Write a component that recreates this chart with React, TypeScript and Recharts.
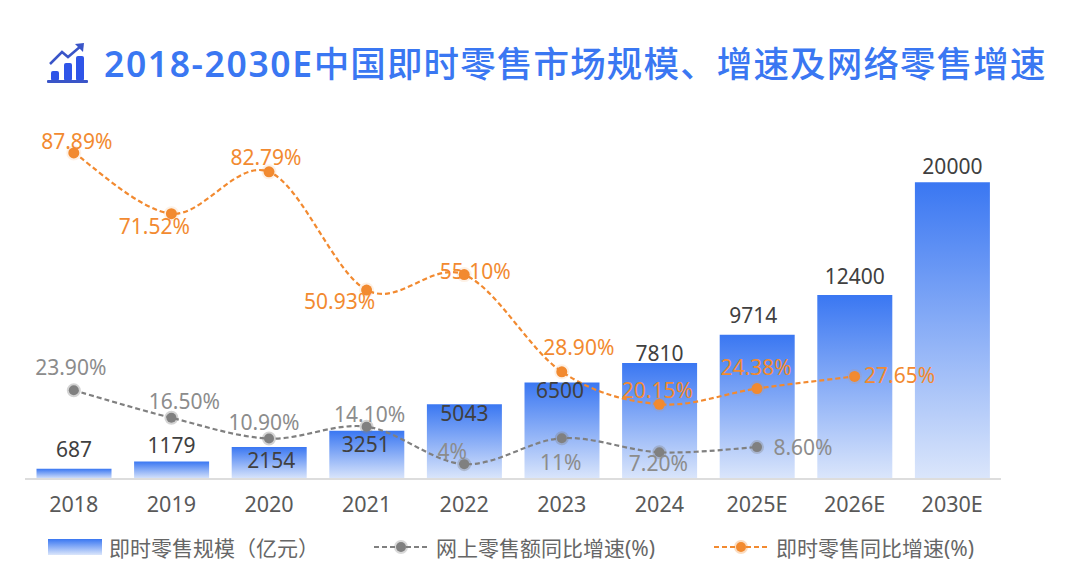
import { Bar, ComposedChart, LabelList, Legend, Line, XAxis, YAxis } from "recharts";

const years = ["2018", "2019", "2020", "2021", "2022", "2023", "2024", "2025E", "2026E", "2030E"];
const marketSize = [687, 1179, 2154, 3251, 5043, 6500, 7810, 9714, 12400, 20000];
const onlineGrowth = [23.9, 16.5, 10.9, 14.1, 4, 11, 7.2, 8.6, null, null];
const instantGrowth = [87.89, 71.52, 82.79, 50.93, 55.1, 28.9, 20.15, 24.38, 27.65, null];
const onlineLabels = ["23.90%", "16.50%", "10.90%", "14.10%", "4%", "11%", "7.20%", "8.60%"];
const instantLabels = ["87.89%", "71.52%", "82.79%", "50.93%", "55.10%", "28.90%", "20.15%", "24.38%", "27.65%"];

const FONT = '"Noto Sans", "Noto Sans CJK SC", sans-serif';
const BLUE = "#3a77f2";
const ORANGE = "#f28a30";
const GRAY = "#808080";

// hand-placed label nudges, the source chart has them all over the place
const barLabelNudge = [[0, -20], [0, -17], [2, 13], [-1, 13], [0, 9], [-2, 7], [0, -10], [-4, -20], [0, -19], [0, -16]];
const onlineLabelNudge = [[-3, -23], [13, -17], [-5, -17], [3, -13], [-12, -13], [-1, 24], [-1, 11], [46, 0]];
const instantLabelNudge = [[3, -12], [-17, 12], [-3, -15], [-27, 11], [11, -4], [17, -25], [-2, -14], [-1, -22], [45, -1]];

const chartData = years.map((year, i) => ({
  year,
  size: marketSize[i],
  online: onlineGrowth[i],
  instant: instantGrowth[i],
}));

// Excel-style smoothed line, overshoots around the points unlike monotone
function smoothCurve(context: any) {
  let pts: [number, number][] = [];
  return {
    areaStart() {},
    areaEnd() {},
    lineStart() {
      pts = [];
    },
    point(x: number, y: number) {
      pts.push([+x, +y]);
    },
    lineEnd() {
      pts.forEach((p, i) => {
        if (i === 0) {
          context.moveTo(p[0], p[1]);
          return;
        }
        const p0 = pts[Math.max(i - 2, 0)];
        const p1 = pts[i - 1];
        const p3 = pts[Math.min(i + 1, pts.length - 1)];
        context.bezierCurveTo(
          p1[0] + (p[0] - p0[0]) / 6,
          p1[1] + (p[1] - p0[1]) / 6,
          p[0] - (p3[0] - p1[0]) / 6,
          p[1] - (p3[1] - p1[1]) / 6,
          p[0],
          p[1],
        );
      });
    },
  };
}

function makeLabel(texts: (string | number)[], nudges: number[][], color: string, isBar = false) {
  return (props: any) => {
    const { x, y, width, index } = props;
    const nudge = nudges[index];
    if (!nudge || texts[index] === undefined) return null;
    const cx = isBar ? x + width / 2 : x;
    return (
      <text
        x={cx + nudge[0]}
        y={y + nudge[1]}
        fill={color}
        fontSize={21}
        fontFamily={FONT}
        textAnchor="middle"
        dominantBaseline="central"
      >
        {texts[index]}
      </text>
    );
  };
}

function LegendRow({ payload }: any) {
  const lefts = [48, 374, 714];
  return (
    <div style={{ position: "relative", height: 30, fontFamily: FONT, fontSize: 21, color: "#666" }}>
      {(payload || []).map((item: any, i: number) => (
        <div key={item.value} style={{ position: "absolute", left: lefts[i], top: 0, height: 30, display: "flex", alignItems: "center", whiteSpace: "nowrap" }}>
          {i === 0 ? (
            <div style={{ width: 54, height: 16, marginRight: 7, background: `linear-gradient(${BLUE}, #dbe6fb)` }} />
          ) : (
            <svg width={54} height={30} style={{ marginRight: 8 }}>
              <line x1={0} x2={54} y1={15} y2={15} stroke={item.color} strokeWidth={2.2} strokeDasharray="5 3" />
              <circle cx={27} cy={15} r={5} fill={item.color} stroke={item.color} strokeOpacity={0.3} strokeWidth={4} />
            </svg>
          )}
          <span>{item.value}</span>
        </div>
      ))}
    </div>
  );
}

function TitleIcon() {
  return (
    <svg width={44} height={42} viewBox="0 0 44 42" style={{ position: "absolute", left: 46, top: 42 }}>
      <path d="M4 22 L16 10 L22 15 L35 4" fill="none" stroke="#3a55c8" strokeWidth={2.5} />
      <path d="M29 2 L38 1 L37 10 Z" fill="#3a55c8" />
      <rect x={5} y={29} width={8} height={10} rx={2} fill="#2f55e8" />
      <rect x={18} y={21} width={8} height={18} rx={2} fill="#2f55e8" />
      <rect x={30} y={14} width={8} height={25} rx={2} fill="#2f55e8" />
      <rect x={1} y={38} width={41} height={3} rx={1} fill="#3a55c8" />
    </svg>
  );
}

export default function App() {
  return (
    <div style={{ position: "absolute", left: 0, top: 0, width: 1080, height: 568, background: "#fff" }}>
      <TitleIcon />
      <div
        style={{
          position: "absolute",
          left: 104,
          top: 37,
          fontFamily: FONT,
          fontSize: 35.5,
          fontWeight: 500,
          letterSpacing: 1.15,
          lineHeight: "52px",
          color: BLUE,
          whiteSpace: "nowrap",
        }}
      >
        <span style={{ letterSpacing: 1.6, fontWeight: 600 }}>2018-2030E</span>中国即时零售市场规模、增速及网络零售增速
      </div>
      <ComposedChart width={1080} height={568} data={chartData} margin={{ top: 108, right: 79, bottom: 59, left: 25 }} barCategoryGap={11.5}>
        <defs>
          <linearGradient id="barFill" x1="0" y1="0" x2="0" y2="1">
            <stop offset="0%" stopColor={BLUE} />
            <stop offset="100%" stopColor="#dbe6fb" />
          </linearGradient>
        </defs>
        <XAxis
          dataKey="year"
          height={30}
          tickLine={false}
          axisLine={{ stroke: "#dddddd", strokeWidth: 2 }}
          tick={{ fontSize: 21.5, fontFamily: FONT, fill: "#595959" }}
          tickMargin={12}
          interval={0}
        />
        <YAxis yAxisId="size" hide domain={[0, 25000]} />
        <YAxis yAxisId="pct" hide orientation="right" domain={[0, 100]} />
        <Bar yAxisId="size" dataKey="size" name="即时零售规模（亿元）" fill="url(#barFill)" isAnimationActive={false}>
          <LabelList dataKey="size" content={makeLabel(marketSize, barLabelNudge, "#404040", true)} />
        </Bar>
        <Line
          yAxisId="pct"
          dataKey="online"
          name="网上零售额同比增速(%)"
          type={smoothCurve as any}
          stroke={GRAY}
          strokeWidth={2.2}
          strokeDasharray="5 3"
          dot={{ r: 5, fill: GRAY, stroke: GRAY, strokeOpacity: 0.35, strokeWidth: 4, strokeDasharray: "0" }}
          isAnimationActive={false}
        >
          <LabelList dataKey="online" content={makeLabel(onlineLabels, onlineLabelNudge, "#8c8c8c")} />
        </Line>
        <Line
          yAxisId="pct"
          dataKey="instant"
          name="即时零售同比增速(%)"
          type={smoothCurve as any}
          stroke={ORANGE}
          strokeWidth={2.2}
          strokeDasharray="5 3"
          dot={{ r: 5.5, fill: ORANGE, stroke: ORANGE, strokeOpacity: 0.12, strokeWidth: 4, strokeDasharray: "0" }}
          isAnimationActive={false}
        >
          <LabelList dataKey="instant" content={makeLabel(instantLabels, instantLabelNudge, ORANGE)} />
        </Line>
        <Legend
          layout="horizontal"
          verticalAlign="middle"
          itemSorter={null}
          content={<LegendRow />}
          wrapperStyle={{ top: 532, left: 0, width: 1080 }}
        />
      </ComposedChart>
    </div>
  );
}
